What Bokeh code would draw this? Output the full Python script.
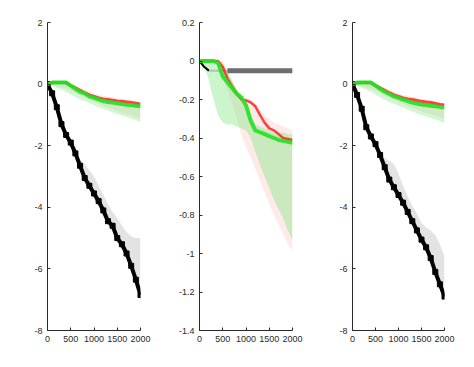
from bokeh.plotting import figure
from bokeh.layouts import row
from bokeh.models import Range1d, FixedTicker
from bokeh.embed import file_html
from bokeh.resources import INLINE

# ---------------- data ----------------
x_vals = [0, 100, 200, 300, 400, 500, 600, 700, 800, 900, 1000,
          1100, 1200, 1300, 1400, 1500, 1600, 1700, 1800, 1900, 2000]
x_ticks = [0, 500, 1000, 1500, 2000]
x_tick_labels = ["0", "500", "1000", "1500", "2000"]

y_ticks_outer = [2, 0, -2, -4, -6, -8]
y_labels_outer = ["2", "0", "-2", "-4", "-6", "-8"]
y_ticks_mid = [0.2, 0, -0.2, -0.4, -0.6, -0.8, -1, -1.2, -1.4]
y_labels_mid = ["0.2", "0", "-0.2", "-0.4", "-0.6", "-0.8", "-1", "-1.2", "-1.4"]

# panel 1
black1 = [0, -0.3, -0.75, -1.3, -1.65, -1.9, -2.25, -2.65, -3.05, -3.3, -3.55,
          -3.8, -4.1, -4.45, -4.6, -5.0, -5.2, -5.5, -5.9, -6.35, -6.85]
gray_up1 = [0, -0.25, -0.7, -1.2, -1.55, -1.8, -2.1, -2.45, -2.6, -2.8, -3.0,
            -3.3, -3.6, -3.9, -4.15, -4.35, -4.6, -4.8, -4.95, -5.0, -5.0]
gray_lo1 = [0, -0.35, -0.8, -1.4, -1.75, -2.0, -2.35, -2.8, -3.2, -3.45, -3.75,
            -4.0, -4.3, -4.6, -4.8, -5.15, -5.35, -5.65, -6.05, -6.5, -6.9]
green1 = [0, 0.05, 0.05, 0.05, 0.05, -0.05, -0.15, -0.25, -0.3, -0.4, -0.45,
          -0.5, -0.55, -0.58, -0.6, -0.62, -0.65, -0.67, -0.68, -0.7, -0.72]
red1 = [0, 0.05, 0.05, 0.05, 0.05, -0.05, -0.12, -0.2, -0.28, -0.35, -0.4,
        -0.45, -0.48, -0.5, -0.52, -0.55, -0.56, -0.58, -0.6, -0.62, -0.65]
gband_up1 = [0, 0.05, 0.05, 0.05, 0.05, -0.02, -0.1, -0.18, -0.25, -0.32, -0.38,
             -0.43, -0.48, -0.52, -0.55, -0.58, -0.61, -0.63, -0.65, -0.67, -0.7]
gband_lo1 = [0, -0.05, -0.12, -0.18, -0.25, -0.33, -0.42, -0.5, -0.56, -0.62, -0.68,
             -0.75, -0.8, -0.86, -0.92, -0.97, -1.02, -1.07, -1.12, -1.17, -1.22]
rband_up1 = [0, 0.08, 0.08, 0.08, 0.08, 0.02, -0.05, -0.12, -0.18, -0.25, -0.3,
             -0.35, -0.38, -0.4, -0.42, -0.45, -0.48, -0.5, -0.52, -0.55, -0.6]
rband_lo1 = [0, -0.03, -0.08, -0.12, -0.15, -0.22, -0.3, -0.38, -0.45, -0.52, -0.58,
             -0.64, -0.7, -0.76, -0.82, -0.87, -0.92, -0.97, -1.02, -1.07, -1.12]

# panel 2
gray2 = [0, -0.03, -0.05, -0.05, -0.05, -0.05, -0.05, -0.05, -0.05, -0.05, -0.05,
         -0.05, -0.05, -0.05, -0.05, -0.05, -0.05, -0.05, -0.05, -0.05, -0.05]
green2 = [0, 0, 0, 0, -0.01, -0.08, -0.11, -0.14, -0.17, -0.19, -0.23,
          -0.31, -0.36, -0.37, -0.38, -0.39, -0.4, -0.41, -0.415, -0.42, -0.425]
red2 = [0, 0, 0, 0, 0, -0.03, -0.09, -0.13, -0.17, -0.2, -0.205,
        -0.215, -0.235, -0.28, -0.32, -0.35, -0.36, -0.38, -0.4, -0.405, -0.41]
gband_up2 = [0, 0, 0, 0, 0, -0.02, -0.05, -0.1, -0.15, -0.18, -0.22,
             -0.28, -0.33, -0.34, -0.35, -0.36, -0.37, -0.37, -0.37, -0.38, -0.38]
gband_lo2 = [0, -0.02, -0.1, -0.2, -0.28, -0.32, -0.33, -0.33, -0.34, -0.35, -0.36,
             -0.4, -0.47, -0.54, -0.6, -0.66, -0.72, -0.77, -0.82, -0.88, -0.93]
rband_up2 = [0, 0, 0, 0, 0, 0, -0.05, -0.1, -0.14, -0.17, -0.19,
             -0.2, -0.22, -0.25, -0.28, -0.3, -0.32, -0.33, -0.34, -0.35, -0.36]
rband_lo2 = [0, 0, 0, 0, -0.02, -0.08, -0.15, -0.22, -0.3, -0.38, -0.45,
             -0.5, -0.56, -0.62, -0.68, -0.74, -0.8, -0.85, -0.9, -0.95, -0.99]

# panel 3
black3 = [0, -0.35, -0.8, -1.4, -1.7, -1.95, -2.3, -2.7, -3.1, -3.35, -3.6,
          -3.85, -4.15, -4.45, -4.75, -5.05, -5.3, -5.65, -6.1, -6.5, -6.9]
gray_up3 = [0, -0.3, -0.75, -1.3, -1.6, -1.85, -2.15, -2.4, -2.5, -2.6, -2.9,
            -3.3, -3.65, -3.95, -4.2, -4.5, -4.65, -4.75, -4.9, -5.2, -5.6]
gray_lo3 = [0, -0.45, -0.9, -1.5, -1.8, -2.05, -2.4, -2.85, -3.25, -3.5, -3.75,
            -4.0, -4.3, -4.6, -4.9, -5.2, -5.45, -5.8, -6.25, -6.65, -7.0]
green3 = [0, 0.05, 0.05, 0.05, 0.05, -0.05, -0.15, -0.25, -0.32, -0.4, -0.45,
          -0.5, -0.55, -0.6, -0.63, -0.66, -0.68, -0.7, -0.72, -0.74, -0.76]
red3 = [0, 0.05, 0.05, 0.05, 0.05, -0.05, -0.12, -0.2, -0.28, -0.35, -0.4,
        -0.45, -0.48, -0.5, -0.53, -0.56, -0.58, -0.6, -0.63, -0.66, -0.68]
gband_up3 = [0, 0.05, 0.05, 0.05, 0.05, -0.02, -0.1, -0.18, -0.26, -0.33, -0.39,
             -0.44, -0.49, -0.53, -0.57, -0.6, -0.63, -0.65, -0.68, -0.7, -0.73]
gband_lo3 = [0, -0.05, -0.12, -0.18, -0.25, -0.34, -0.43, -0.51, -0.58, -0.64, -0.7,
             -0.77, -0.83, -0.89, -0.95, -1.0, -1.05, -1.1, -1.15, -1.2, -1.26]
rband_up3 = [0, 0.08, 0.08, 0.08, 0.08, 0.02, -0.05, -0.12, -0.18, -0.25, -0.3,
             -0.35, -0.38, -0.41, -0.44, -0.47, -0.5, -0.52, -0.55, -0.58, -0.62]
rband_lo3 = [0, -0.03, -0.08, -0.12, -0.15, -0.22, -0.3, -0.38, -0.45, -0.52, -0.58,
             -0.65, -0.71, -0.77, -0.83, -0.88, -0.93, -0.98, -1.03, -1.08, -1.14]

AXIS_COLOR = "#2a2a2a"
FONT = "Liberation Sans"


def make_fig(border_left, frame_w, border_right, y_lo, y_hi, yticks, ylabels):
    p = figure(frame_width=frame_w, frame_height=308,
               min_border_left=border_left, min_border_right=border_right,
               min_border_top=22, min_border_bottom=28,
               x_range=Range1d(0, 2000), y_range=Range1d(y_lo, y_hi),
               output_backend="svg", toolbar_location=None)
    p.outline_line_color = None
    p.grid.visible = False
    p.background_fill_color = "white"
    for ax, ticks, labels in ((p.xaxis[0], x_ticks, x_tick_labels),
                              (p.yaxis[0], yticks, ylabels)):
        ax.ticker = FixedTicker(ticks=ticks)
        ax.major_label_overrides = {t: l for t, l in zip(ticks, labels)}
        ax.axis_line_color = AXIS_COLOR
        ax.axis_line_width = 1
        ax.major_tick_line_color = AXIS_COLOR
        ax.major_tick_in = 3
        ax.major_tick_out = 0
        ax.minor_tick_line_color = None
        ax.major_label_text_font = FONT
        ax.major_label_text_font_size = "9px"
        ax.major_label_text_color = AXIS_COLOR
        ax.major_label_standoff = 5
    return p


def outer_panel(p, black, gup, glo, green, red, gbu, gbl, rbu, rbl):
    p.varea(x=x_vals, y1=gup, y2=glo, fill_color="#cccccc", fill_alpha=0.55)
    p.varea(x=x_vals, y1=rbu, y2=rbl, fill_color="#ffb8b8", fill_alpha=0.3)
    p.varea(x=x_vals, y1=gbu, y2=gbl, fill_color="#7de87d", fill_alpha=0.35)
    p.line(x=x_vals, y=black, line_color="black", line_width=4)
    p.scatter(x=x_vals, y=black, marker="square", size=5,
              fill_color="black", line_color="black")
    p.line(x=x_vals, y=red, line_color="#ff2020", line_width=3, line_alpha=0.85)
    p.line(x=x_vals, y=green, line_color="#22e022", line_width=4, line_alpha=0.9)


p1 = make_fig(47, 93, 20, -8, 2, y_ticks_outer, y_labels_outer)
outer_panel(p1, black1, gray_up1, gray_lo1, green1, red1,
            gband_up1, gband_lo1, rband_up1, rband_lo1)

p2 = make_fig(39, 93, 20, -1.4, 0.2, y_ticks_mid, y_labels_mid)
p2.varea(x=x_vals, y1=rband_up2, y2=rband_lo2, fill_color="#ffb8b8", fill_alpha=0.3)
p2.varea(x=x_vals, y1=gband_up2, y2=gband_lo2, fill_color="#7de87d", fill_alpha=0.4)
p2.line(x=x_vals, y=gray2, line_color="#b0b0b0", line_width=2, line_alpha=0.8)
p2.line(x=x_vals[6:], y=gray2[6:], line_color="#6e6e6e", line_width=5)
p2.line(x=x_vals[:3], y=gray2[:3], line_color="black", line_width=2)
p2.line(x=x_vals, y=red2, line_color="#ff2020", line_width=2.5, line_alpha=0.85)
p2.line(x=x_vals, y=green2, line_color="#22e022", line_width=4, line_alpha=0.9)

p3 = make_fig(40, 92, 22, -8, 2, y_ticks_outer, y_labels_outer)
outer_panel(p3, black3, gray_up3, gray_lo3, green3, red3,
            gband_up3, gband_lo3, rband_up3, rband_lo3)

layout = row(p1, p2, p3, spacing=0)

with open("out.html", "w") as f:
    f.write(file_html(layout, INLINE))
